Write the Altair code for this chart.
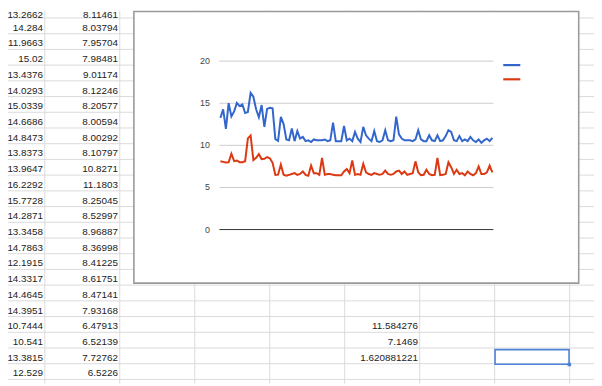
import altair as alt
import pandas as pd

# ---- data ----
blue = [13.2662, 14.284, 11.9663, 15.02, 13.4376, 14.0293, 15.0339, 14.6686, 14.8473, 13.8373,
        13.9647, 16.2292, 15.7728, 14.2871, 13.3458, 14.7863, 12.1915, 14.3317, 14.4645, 14.3951,
        10.7444, 10.541, 13.3815, 12.529,
        10.7, 10.6, 12.0, 10.5, 11.7, 10.8, 11.0, 10.5, 10.6, 10.4, 10.7, 10.6, 10.6, 10.6, 10.7, 10.5,
        10.6, 12.7, 10.5, 10.5, 10.5, 12.3, 10.6, 10.8, 10.5, 11.6, 10.8, 10.4, 12.2, 11.2, 10.8, 10.5,
        11.7, 10.5, 10.4, 10.6, 11.8, 10.6, 10.5, 10.6, 13.4, 11.3, 10.8, 10.6, 10.6, 10.6, 10.5, 10.7,
        11.8, 10.7, 10.5, 10.5, 11.2, 10.6, 10.5, 11.2, 10.5, 10.6, 11.1, 11.8, 11.6, 10.6, 10.5, 11.1,
        10.5, 10.7, 10.5, 11.0, 10.6, 10.4, 10.7, 10.3, 10.6, 10.8, 10.5, 10.9]
red = [8.11461, 8.03794, 7.95704, 7.98481, 9.01174, 8.12246, 8.20577, 8.00594, 8.00292, 8.10797,
       10.8271, 11.1803, 8.25045, 8.52997, 8.96887, 8.36998, 8.41225, 8.61751, 8.47141, 7.93168,
       6.47913, 6.52139, 7.72762, 6.5226,
       6.4, 6.5, 6.6, 6.7, 6.5, 6.6, 6.9, 6.5, 6.4, 7.6, 6.7, 6.7, 6.5, 8.5, 6.5, 6.6,
       6.6, 6.5, 6.45, 6.45, 6.45, 6.9, 7.2, 6.7, 8.2, 6.5, 6.6, 6.5, 7.8, 6.8, 6.6, 6.5, 6.7, 6.6, 6.5, 6.6,
       7.0, 6.6, 6.5, 6.6, 6.9, 7.0, 6.6, 6.9, 6.5, 6.6, 6.7, 8.1, 6.8, 6.45, 6.5, 7.1, 6.6, 6.45, 6.5, 8.5,
       6.45, 6.5, 6.6, 8.0, 7.4, 6.6, 7.1, 6.6, 6.7, 6.45, 6.9, 6.6, 6.45, 6.7, 7.5, 6.6, 6.6, 6.8, 7.6, 6.8]
sheet_col_a = blue[:24]
sheet_col_b = red[:24]
summary = ["11.584276", "7.1469", "1.620881221"]
summary_rows = [20, 21, 22]
y_ticks = [0, 5, 10, 15, 20]
series_names = ["Series A", "Series B"]
series_colors = ["#3366cc", "#dc3912"]

W, H = 594, 378
FONT = "Arial"

# ---- spreadsheet background ----
row_scale = alt.Scale(domain=[0, 24], range=[-8.4, 373.92])
col_scale = alt.Scale(domain=[0, 7], range=[37.3, 569.3])

hlines = alt.Chart(pd.DataFrame({"k": list(range(0, 25))})).mark_rule(
    color="#dadada", strokeWidth=1).encode(
    y=alt.Y("k:Q", scale=row_scale, axis=None), x=alt.value(0), x2=alt.value(W))
vlines = alt.Chart(pd.DataFrame({"j": list(range(0, 8))})).mark_rule(
    color="#dadada", strokeWidth=1).encode(
    x=alt.X("j:Q", scale=col_scale, axis=None), y=alt.value(0), y2=alt.value(H))

cells = pd.DataFrame({
    "line": [r + 1 for r in range(24)],
    "a": [f"{v:g}" for v in sheet_col_a],
    "b": [f"{v:g}" for v in sheet_col_b],
})


def cell_text(df, field, right, dy):
    return alt.Chart(df).mark_text(align="right", baseline="alphabetic", dy=dy,
                                   font=FONT, fontSize=10, color="#222222").encode(
        y=alt.Y("line:Q", scale=row_scale, axis=None), x=alt.value(right), text=f"{field}:N")


first, rest = cells.iloc[:1], cells.iloc[1:]
text_a0 = cell_text(first, "a", 35.5, 0)
text_b0 = cell_text(first, "b", 111.5, 0)
text_a = cell_text(rest, "a", 35.5, -3)
text_b = cell_text(rest, "b", 111.5, -3)
summ = pd.DataFrame({"line": [r + 1 for r in summary_rows], "t": summary})
text_s = cell_text(summ, "t", 415.5, -3)

# selected cell
sel = alt.Chart(pd.DataFrame({"a": [0]})).mark_rect(
    fill=None, stroke="#4f82d6", strokeWidth=1.6).encode(
    x=alt.value(493.7), x2=alt.value(568.7), y=alt.value(343.7), y2=alt.value(358.6))
handle = alt.Chart(pd.DataFrame({"a": [0]})).mark_rect(color="#4f82d6").encode(
    x=alt.value(567.2), x2=alt.value(570.8), y=alt.value(357.0), y2=alt.value(360.6))

# ---- chart box ----
box = alt.Chart(pd.DataFrame({"a": [0]})).mark_rect(
    fill="white", stroke="#9a9a9a", strokeWidth=1.6).encode(
    x=alt.value(127.6), x2=alt.value(578.5), y=alt.value(0.9), y2=alt.value(276.3))

val_scale = alt.Scale(domain=[0, 20], range=[222.0, 51.3])
idx_scale = alt.Scale(domain=[0, 99], range=[215.3, 491.0])

grid = alt.Chart(pd.DataFrame({"v": y_ticks})).mark_rule(strokeWidth=1).encode(
    y=alt.Y("v:Q", scale=val_scale, axis=None),
    x=alt.value(214.3), x2=alt.value(492.0),
    color=alt.when(alt.datum.v == 0).then(alt.value("#333333")).otherwise(alt.value("#cccccc")))
labels = alt.Chart(pd.DataFrame({"v": y_ticks})).mark_text(
    align="right", baseline="middle", font=FONT, fontSize=9, color="#444444").encode(
    y=alt.Y("v:Q", scale=val_scale, axis=None), x=alt.value(204.7), text="v:Q")

n = len(blue)
long = pd.DataFrame({
    "i": list(range(n)) * 2,
    "value": blue + red,
    "series": [series_names[0]] * n + [series_names[1]] * n,
})
color_scale = alt.Scale(domain=series_names, range=series_colors)
lines = alt.Chart(long).mark_line(strokeWidth=2).encode(
    x=alt.X("i:Q", scale=idx_scale, axis=None),
    y=alt.Y("value:Q", scale=val_scale, axis=None),
    color=alt.Color("series:N", scale=color_scale, legend=None),
    detail="series:N")

leg = pd.DataFrame({"series": series_names, "pos": [0, 1]})
legend = alt.Chart(leg).mark_rule(strokeWidth=2.2).encode(
    y=alt.Y("pos:Q", scale=alt.Scale(domain=[0, 1], range=[55.3, 69.7]), axis=None),
    x=alt.value(502.0), x2=alt.value(519.3),
    color=alt.Color("series:N", scale=color_scale, legend=None))

chart = alt.layer(
    hlines, vlines, text_a0, text_b0, text_a, text_b, text_s, sel, handle,
    box, grid, labels, lines, legend
).resolve_scale(x="independent", y="independent", color="independent").properties(
    width=W, height=H, padding=0, autosize=alt.AutoSizeParams(type="none"),
    background="white"
).configure_view(stroke=None)

chart.save("out.html", embed_options={"renderer": "svg", "actions": False})
